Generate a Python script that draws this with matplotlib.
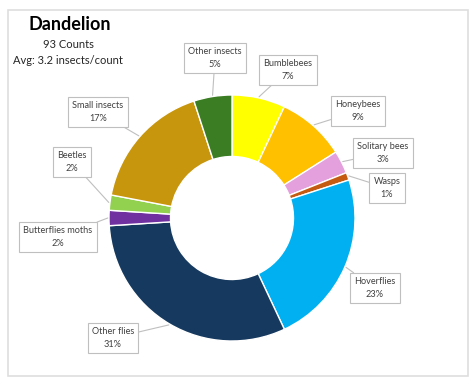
import numpy as np
import matplotlib.pyplot as plt
from matplotlib.patches import Rectangle

plt.rcParams['font.family'] = ['Lato', 'DejaVu Sans']

labels = ['Bumblebees', 'Honeybees', 'Solitary bees', 'Wasps', 'Hoverflies',
          'Other flies', 'Butterflies moths', 'Beetles', 'Small insects', 'Other insects']
shares = [7, 9, 3, 1, 23, 31, 2, 2, 17, 5]
colors = ['#FFFF00', '#FFC000', '#E3A0DD', '#C55A11', '#00B0F0',
          '#163A5F', '#7030A0', '#92D050', '#C8960C', '#3A7D22']
# callout box centres, in pixels of the 474x384 figure
box_px = [(288, 70), (358, 111), (383, 153), (387, 188), (375, 288),
          (113, 338), (58, 237), (72, 162), (98, 112), (215, 58)]

W, H = 474, 384
cx, cy, R = 232, 218, 123

fig = plt.figure(figsize=(W / 100, H / 100), dpi=100)
fig.patches.append(Rectangle((8 / W, 8 / H), 460 / W, 366 / H, transform=fig.transFigure,
                             fill=False, edgecolor='#dedede', linewidth=1.2))

ax = fig.add_axes([(cx - R) / W, (H - cy - R) / H, 2 * R / W, 2 * R / H])
wedges, _ = ax.pie(shares, colors=colors, startangle=90, counterclock=False, radius=1,
                   wedgeprops=dict(width=0.5, edgecolor='white', linewidth=1))
ax.set_xlim(-1, 1)
ax.set_ylim(-1, 1)
ax.set_aspect('equal')
ax.axis('off')

for w, lab, val, (bx, by) in zip(wedges, labels, shares, box_px):
    ang = np.deg2rad((w.theta1 + w.theta2) / 2)
    px, py = 1.01 * np.cos(ang), 1.01 * np.sin(ang)
    tx, ty = (bx - cx) / R, (cy - by) / R
    ax.annotate(f'{lab}\n{val}%', xy=(px, py), xytext=(tx, ty), textcoords='data',
                ha='center', va='center', fontsize=6.6, color='#404040', linespacing=1.5,
                annotation_clip=False,
                bbox=dict(boxstyle='square,pad=0.45', fc='white', ec='#bfbfbf', lw=0.8),
                arrowprops=dict(arrowstyle='-', color='#bfbfbf', lw=0.8, shrinkA=0, shrinkB=0))

fig.text(70 / W, 1 - 25 / H, 'Dandelion', ha='center', va='center',
         fontsize=13, fontweight='bold', color='black')
fig.text(68 / W, 1 - 45 / H, '93 Counts', ha='center', va='center', fontsize=8, color='#262626')
fig.text(68 / W, 1 - 60 / H, 'Avg: 3.2 insects/count', ha='center', va='center',
         fontsize=8, color='#262626')

fig.savefig('out.png', dpi=100)
